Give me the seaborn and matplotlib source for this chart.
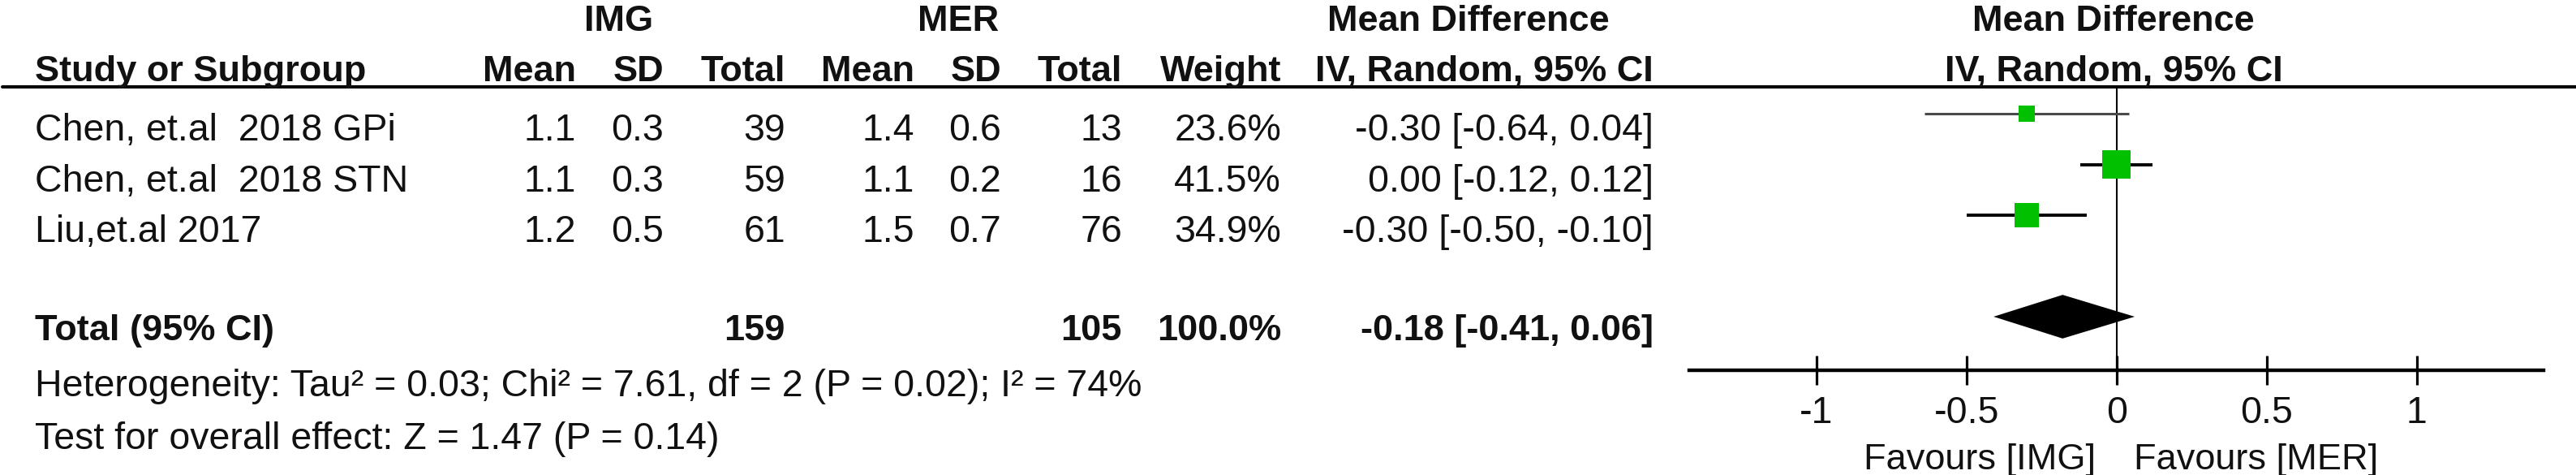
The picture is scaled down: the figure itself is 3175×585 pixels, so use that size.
import numpy as np
import pandas as pd
import matplotlib
matplotlib.use("Agg")
import matplotlib.pyplot as plt
import seaborn as sns
from matplotlib.lines import Line2D

# study level data
studies = ["Chen, et.al  2018 GPi", "Chen, et.al  2018 STN", "Liu,et.al 2017"]
img_mean = [1.1, 1.1, 1.2]
img_sd = [0.3, 0.3, 0.5]
img_n = [39, 59, 61]
mer_mean = [1.4, 1.1, 1.5]
mer_sd = [0.6, 0.2, 0.7]
mer_n = [13, 16, 76]
weights = [23.6, 41.5, 34.9]
md = [-0.30, 0.00, -0.30]
ci_lo = [-0.64, -0.12, -0.50]
ci_hi = [0.04, 0.12, -0.10]

# pooled result
total_img_n = 159
total_mer_n = 105
total_weight = 100.0
total_md = -0.18
total_lo = -0.41
total_hi = 0.06
heterogeneity = "Heterogeneity: Tau\u00b2 = 0.03; Chi\u00b2 = 7.61, df = 2 (P = 0.02); I\u00b2 = 74%"
overall = "Test for overall effect: Z = 1.47 (P = 0.14)"

xticks = [-1, -0.5, 0, 0.5, 1]
xtick_labels = ["-1", "-0.5", "0", "0.5", "1"]

sns.set_theme(style="white")
plt.rcParams['font.family'] = ['Liberation Sans', 'DejaVu Sans']

W, H = 3175, 585
FS = 33.5
FS_B = 32.5
TXT = "#111111"

fig = plt.figure(figsize=(W / 100, H / 100), dpi=100)


def put(x, y, s, ha="left", bold=False, size=None):
    # x, y in pixels from top left, y is the baseline
    fig.text(x / W, 1 - y / H, s, ha=ha, va="baseline", color=TXT,
             fontsize=size or (FS_B if bold else FS),
             fontweight="bold" if bold else "normal")


# header
put(763, 38, "IMG", ha="center", bold=True)
put(1181, 38, "MER", ha="center", bold=True)
put(1810, 38, "Mean Difference", ha="center", bold=True)
put(2605, 38, "Mean Difference", ha="center", bold=True)

put(43, 100, "Study or Subgroup", bold=True)
cols = [710, 818, 968, 1127, 1234, 1383, 1579, 2038]
heads = ["Mean", "SD", "Total", "Mean", "SD", "Total", "Weight", "IV, Random, 95% CI"]
for cx, h in zip(cols, heads):
    put(cx, 100, h, ha="right", bold=True)
put(2605, 100, "IV, Random, 95% CI", ha="center", bold=True)

fig.add_artist(Line2D([3 / W, 1], [1 - 107 / H, 1 - 107 / H], color="black", lw=2.9))

# study rows
baselines = [173, 235.5, 298]
for i in range(len(studies)):
    y = baselines[i]
    put(43, y, studies[i])
    vals = [f"{img_mean[i]:.1f}", f"{img_sd[i]:.1f}", f"{img_n[i]}",
            f"{mer_mean[i]:.1f}", f"{mer_sd[i]:.1f}", f"{mer_n[i]}",
            f"{weights[i]:.1f}%",
            f"{md[i]:.2f} [{ci_lo[i]:.2f}, {ci_hi[i]:.2f}]"]
    for cx, v in zip(cols, vals):
        put(cx, y, v, ha="right")

# total row
put(43, 419, "Total (95% CI)", bold=True)
put(968, 419, f"{total_img_n}", ha="right", bold=True)
put(1383, 419, f"{total_mer_n}", ha="right", bold=True)
put(1579, 419, f"{total_weight:.1f}%", ha="right", bold=True)
put(2038, 419, f"{total_md:.2f} [{total_lo:.2f}, {total_hi:.2f}]", ha="right", bold=True)
put(43, 488, heterogeneity)
put(43, 553, overall)

# forest panel
ax = fig.add_axes([2082 / W, 1 - 456 / H, (3135 - 2082) / W, (456 - 107) / H])
ax.set_facecolor("none")
rows = [0, 1, 2]
total_row = 4

line_cols = ["#4a4a4a", "black", "black"]
line_w = [2.2, 2.8, 2.8]
for r, lo, hi, c, lw in zip(rows, ci_lo, ci_hi, line_cols, line_w):
    ax.plot([lo, hi], [r, r], color=c, lw=lw, solid_capstyle="butt", zorder=2)

df = pd.DataFrame({"md": md, "row": rows, "w": weights})
side_px = np.array(weights) / max(weights) * 35
sns.scatterplot(data=df, x="md", y="row", marker="s", s=(side_px * 0.72) ** 2,
                color="#00c000", linewidth=0, ax=ax, zorder=3, legend=False)

half = 0.43
ax.fill([total_lo, total_md, total_hi, total_md],
        [total_row, total_row - half, total_row, total_row + half],
        color="black", lw=0, zorder=3)

ax.axvline(0, color="black", lw=1.5, zorder=1)

ax.set_xlim(-1.424, 1.422)
ax.set_ylim(5.056, -0.528)
sns.despine(ax=ax, left=True)
ax.spines["bottom"].set_color("black")
ax.spines["bottom"].set_linewidth(3.2)
ax.set_yticks([])
ax.set_xticks(xticks)
ax.set_xticklabels(xtick_labels)
ax.tick_params(axis="x", direction="inout", length=26, width=2.3, pad=9,
               labelsize=FS, colors="black", labelcolor=TXT, bottom=True)
ax.set_xlabel("")
ax.set_ylabel("")

put(2583, 578, "Favours [IMG]", ha="right", size=32.5)
put(2630, 578, "Favours [MER]", size=32.5)

fig.savefig("out.png", dpi=100, facecolor="white")
